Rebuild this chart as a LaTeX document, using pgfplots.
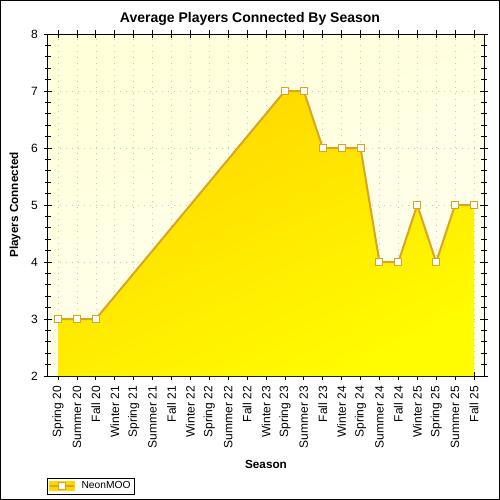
\documentclass[border=0pt]{standalone}
\usepackage{pgfplots}
\pgfplotsset{compat=1.18}
\usepackage{fontspec}
\setmainfont{Liberation Sans}

\definecolor{linegold}{RGB}{218,165,32}
\definecolor{fillgold}{RGB}{255,214,0}
\definecolor{fillyellow}{RGB}{255,252,0}
\definecolor{bgtop}{RGB}{255,255,218}
\definecolor{bgbot}{RGB}{255,255,240}

\begin{document}
\begin{tikzpicture}
\begin{axis}[
    at={(0pt,0pt)}, anchor=south west,
    scale only axis,
    width=327pt, height=256.5pt,
    xmin=-0.53, xmax=22.53,
    ymin=2, ymax=8,
    xtick={0,...,22},
    xticklabels={Spring 20,Summer 20,Fall 20,Winter 21,Spring 21,Summer 21,Fall 21,Winter 22,Spring 22,Summer 22,Fall 22,Winter 23,Spring 23,Summer 23,Fall 23,Winter 24,Spring 24,Summer 24,Fall 24,Winter 25,Spring 25,Summer 25,Fall 25},
    ytick={2,...,8},
    minor y tick num=4,
    tick align=center,
    major tick length=6pt,
    minor tick length=4pt,
    tick style={black, line width=0.6pt},
    axis line style={black, line width=0.75pt},
    /pgf/number format/assume math mode=true,
    tick label style={font=\fontsize{9pt}{10pt}\selectfont},
    xticklabel style={rotate=90, anchor=east, inner sep=2pt, xshift=-2.5pt, font=\fontsize{9pt}{10pt}\selectfont},
    yticklabel style={inner sep=3pt, xshift=-1.5pt, font=\fontsize{9pt}{10pt}\selectfont},
    xmajorgrids, ymajorgrids,
    grid style={gray!45, line width=0.5pt, dash pattern=on 0.6pt off 3.9pt},
    axis background/.style={shade, top color=bgtop, bottom color=bgbot, shading angle=20},
    title={Average Players Connected By Season},
    title style={font=\bfseries\fontsize{10.5pt}{12pt}\selectfont,
        at={(axis description cs:0.4633,1)}, anchor=base, yshift=2.5pt},
    xlabel={Season},
    ylabel={Players Connected},
    label style={font=\bfseries\fontsize{8.8pt}{10pt}\selectfont},
    xlabel style={at={(axis description cs:0.5,-0.26)}, anchor=center},
    ylabel style={at={(axis description cs:-0.0757,0.5)}, anchor=center},
    legend style={at={(axis description cs:-0.002,-0.298)}, anchor=north west,
        font=\fontsize{7.7pt}{8pt}\selectfont, draw=black, line width=0.6pt,
        inner xsep=1pt, inner ysep=0.5pt, row sep=0pt},
    legend cell align=left,
    legend image code/.code={
        \fill[fillgold] (0pt,-3pt) rectangle (18pt,3pt);
        \draw[#1, mark repeat=2, mark phase=2] plot coordinates {(0pt,0pt) (9pt,0pt) (18pt,0pt)};
    },
]
% shaded area below the series
\addplot[draw=none, shade, top color=fillgold, bottom color=fillyellow, shading angle=25, forget plot]
    coordinates {
    (0,3) (1,3) (2,3) (12,7) (13,7) (14,6) (15,6) (16,6)
    (17,4) (18,4) (19,5) (20,4) (21,5) (22,5)
    } \closedcycle;
% the series line with marks
\addplot[linegold, line width=1.5pt, mark=square*,
    mark size=2.6pt, mark options={fill=white, draw=linegold, line width=0.75pt}]
    coordinates {
    (0,3) (1,3) (2,3) (12,7) (13,7) (14,6) (15,6) (16,6)
    (17,4) (18,4) (19,5) (20,4) (21,5) (22,5)
    };
\addlegendentry{\hspace{3pt}NeonMOO\hspace{5pt}}
\end{axis}
\pgfresetboundingbox
\path[use as bounding box] (-36pt,-93pt) rectangle (339pt,282pt);
\draw[black, line width=0.75pt] (-35.6pt,-92.6pt) rectangle (338.6pt,281.6pt);
\end{tikzpicture}
\end{document}
